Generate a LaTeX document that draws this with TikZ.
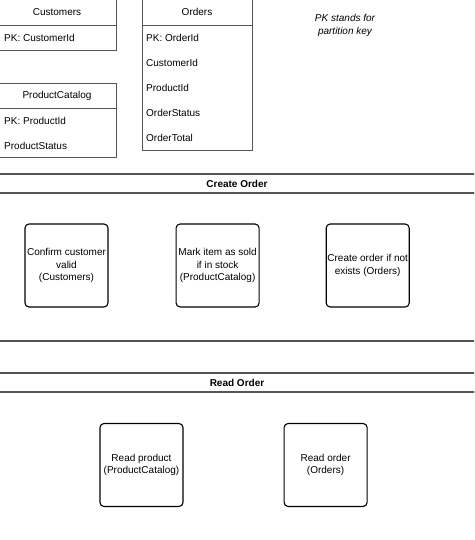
\documentclass[tikz,border=0pt]{standalone}
\usepackage{fontspec}
\setmainfont{Liberation Sans}
\usepackage{xcolor}
\usetikzlibrary{positioning,calc}
\definecolor{tblline}{HTML}{555555}

\begin{document}
\begin{tikzpicture}[x=1pt,y=-1pt,font=\fontsize{10}{12.5}\selectfont,
  tbl/.style={draw=tblline,line width=0.9pt,minimum height=25pt,inner sep=0pt,outer sep=0pt},
  row/.style={anchor=west,inner sep=0pt},
  sect/.style={draw=tblline,line width=1.2pt,minimum width=490pt,inner sep=0pt,outer sep=0pt},
  opbox/.style={draw,line width=1.1pt,rounded corners=4pt,minimum width=83pt,minimum height=83pt,align=center,inner sep=0pt}]
\useasboundingbox (0,0) rectangle (474,540);
\clip (0,0) rectangle (474,540);
% tables
\node[tbl,minimum width=118pt,minimum height=26pt] (cust) at (57,12) {Customers};
\node[tbl,minimum width=118pt,below=0pt of cust] (custbody) {};
\node[row] (custpk) at (4,38) {PK: CustomerId};

\node[tbl,minimum width=118pt] (prod) at (57,95.5) {ProductCatalog};
\node[tbl,minimum width=118pt,minimum height=49pt,below=0pt of prod] (prodbody) {};
\node[row] (prodpk) at (4,121) {PK: ProductId};
\node[row] (prodst) at (4,146) {ProductStatus};

\node[tbl,minimum width=110pt,minimum height=26pt] (ord) at (197,12) {Orders};
\node[tbl,minimum width=110pt,minimum height=125pt,below=0pt of ord] (ordbody) {};
\foreach \txt [count=\i] in {PK: OrderId,CustomerId,ProductId,OrderStatus,OrderTotal}
  \node[row] (ord\i) at (146,13+25*\i) {\txt};

\node[align=center,font=\fontsize{10}{12.5}\selectfont\itshape] (pknote) at (345,25.5) {PK stands for\\partition key};

% create order
\node[sect,minimum height=19pt] (create) at (237,183.5) {\textbf{Create Order}};
\node[sect,minimum height=148pt,below=0pt of create] (createbody) {};
\node[opbox] (confirm) at (66.5,265.5) {Confirm customer\\valid\\(Customers)};
\node[opbox,right=67pt of confirm] (mark) {Mark item as sold\\if in stock\\(ProductCatalog)};
\node[opbox,right=66pt of mark] (neworder) {Create order if not\\exists (Orders)};

% read order
\node[sect,minimum height=19pt] (read) at (237,382.5) {\textbf{Read Order}};
\node[sect,minimum height=160pt,below=0pt of read] (readbody) {};
\node[opbox] (readprod) at (141.5,465) {Read product\\(ProductCatalog)};
\node[opbox,right=100pt of readprod] (readord) {Read order\\(Orders)};
\end{tikzpicture}
\end{document}
